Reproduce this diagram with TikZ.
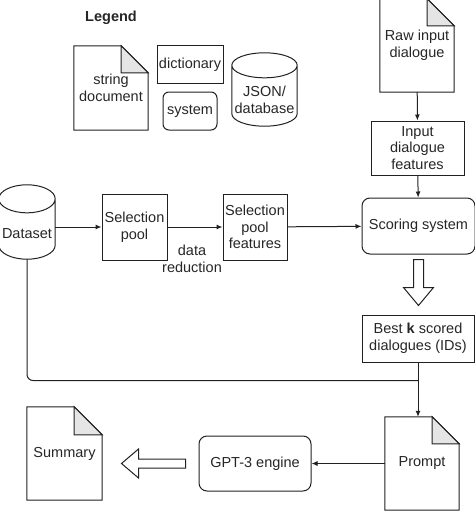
\documentclass[tikz,border=0pt]{standalone}
\usepackage{fontspec}
\setmainfont{Liberation Sans}
\usetikzlibrary{positioning}
\usetikzlibrary{calc}
\usetikzlibrary{arrows.meta}
\definecolor{linegray}{rgb}{0.13,0.13,0.13}
\definecolor{foldgray}{rgb}{0.9,0.9,0.9}

% note shape with folded corner, drawn round a named node
\newcommand{\drawdoc}[2]{%
  \draw[outline] (#1.south west) -- (#1.north west) -- ([xshift=-#2]#1.north east)
    -- ([yshift=-#2]#1.north east) -- (#1.south east) -- cycle;
  \filldraw[outline, fill=foldgray] ([xshift=-#2]#1.north east) -- ([xshift=-#2,yshift=-#2]#1.north east)
    -- ([yshift=-#2]#1.north east) -- cycle;}
% cylinder drawn round a named node, text sits in the body
\newcommand{\drawcyl}[2]{%
  \draw[outline] let \p1=(#1.north west), \p2=(#1.south east), \n1={(\x2-\x1)/2} in
    (\x1,\y1-4pt+#2) -- (\x1,\y2+#2) arc[start angle=180, end angle=360, x radius=\n1, y radius=#2]
    -- (\x2,\y1-4pt+#2) arc[start angle=0, end angle=360, x radius=\n1, y radius=#2];}

\begin{document}
\begin{tikzpicture}
    [x=1pt, y=-1pt,
    every node/.style={font=\fontsize{14.5}{16.7}\selectfont, text=black!85},
    outline/.style={draw=linegray, line width=1pt},
    box/.style={draw=linegray, line width=1pt, align=center, inner sep=0pt},
    roundbox/.style={box, rounded corners=8pt},
    doc/.style={align=center, inner sep=0pt},
    cyl/.style={align=center, inner sep=0pt},
    link/.style={draw=linegray, line width=1pt},
    arrow/.style={link, -{Latex[length=6pt, width=5pt]}},
    hollow/.style={draw=linegray, line width=1pt, fill=white}]
    %\draw[step=50,gray,very thin] (0,0) grid (474,511);
    \useasboundingbox (0,0) rectangle (474,511);
    % legend
    \node[font=\fontsize{14.5}{16.7}\selectfont\bfseries] (legend) at (111, 18) {Legend};
    \node[doc, minimum width=74pt, minimum height=84pt] (legdoc) at (111, 88) {string\\document};
    \node[box, minimum width=66pt, minimum height=37pt] (dict) at (190, 64.5) {dictionary};
    \node[roundbox, rounded corners=6pt, minimum width=54pt, minimum height=38pt] (sys) at (190, 111) {system};
    \node[cyl, minimum width=65pt, minimum height=52pt] (json) at (264.5, 100) {JSON/\\database};
    \drawdoc{legdoc}{27pt}
    \drawcyl{json}{12.5pt}
    % main flow
    \node[doc, minimum width=74pt, minimum height=93pt] (raw) at (417, 45.5) {Raw input\\dialogue};
    \node[box, minimum width=93pt, minimum height=54pt] (inp) at (417.5, 148) {Input\\dialogue\\features};
    \node[cyl, minimum width=56pt, minimum height=50pt] (ds) at (27, 234) {Dataset};
    \node[box, minimum width=65pt, minimum height=66pt] (pool) at (134.5, 227) {Selection\\pool};
    \node[box, minimum width=64pt, minimum height=66pt] (feat) at (255, 227) {Selection\\pool\\features};
    \node[roundbox, minimum width=113pt, minimum height=56pt] (score) at (418.5, 226) {Scoring system};
    \node[box, minimum width=112pt, minimum height=47pt] (best) at (418, 338.5) {Best \textbf{k} scored\\dialogues (IDs)};
    \node[doc, minimum width=74pt, minimum height=93pt] (prompt) at (422, 463.5) {Prompt};
    \node[roundbox, minimum width=112pt, minimum height=55pt] (gpt) at (255, 463.5) {GPT-3 engine};
    \node[doc, minimum width=75pt, minimum height=93pt] (summary) at (64.5, 453.5) {Summary};
    \drawdoc{raw}{27pt}
    \drawdoc{prompt}{27pt}
    \drawdoc{summary}{28pt}
    \drawcyl{ds}{14pt}
    \path (best.south) ++(0,18) coordinate (join);
    \draw[arrow] (raw) -- (inp);
    \draw[arrow] (inp) -- (score);
    \draw[arrow] (pool.west -| ds.east) -- (pool.west);
    \draw[arrow] (pool) -- node[below=14pt, xshift=-3pt, align=center] {data\\reduction} (feat);
    \draw[arrow] (feat) -- (score);
    \draw[link, rounded corners=6pt] (ds.south) |- (join);
    \draw[arrow] (best.south) -- (best.south |- prompt.north);
    \draw[arrow] (prompt) -- (gpt);
    % hollow arrows
    \draw[hollow] ([xshift=-5pt, yshift=-5pt]score.south) -- ++(0,28) -- ++(-10,0) -- ++(15,18)
        -- ++(15,-18) -- ++(-10,0) -- ++(0,-28) -- cycle;
    \draw[hollow] ([xshift=-13pt, yshift=4.5pt]gpt.west) -- ++(-47,0) -- ++(0,-10) -- ++(-17,14.5)
        -- ++(17,14.5) -- ++(0,-10) -- ++(47,0) -- cycle;
\end{tikzpicture}
\end{document}
